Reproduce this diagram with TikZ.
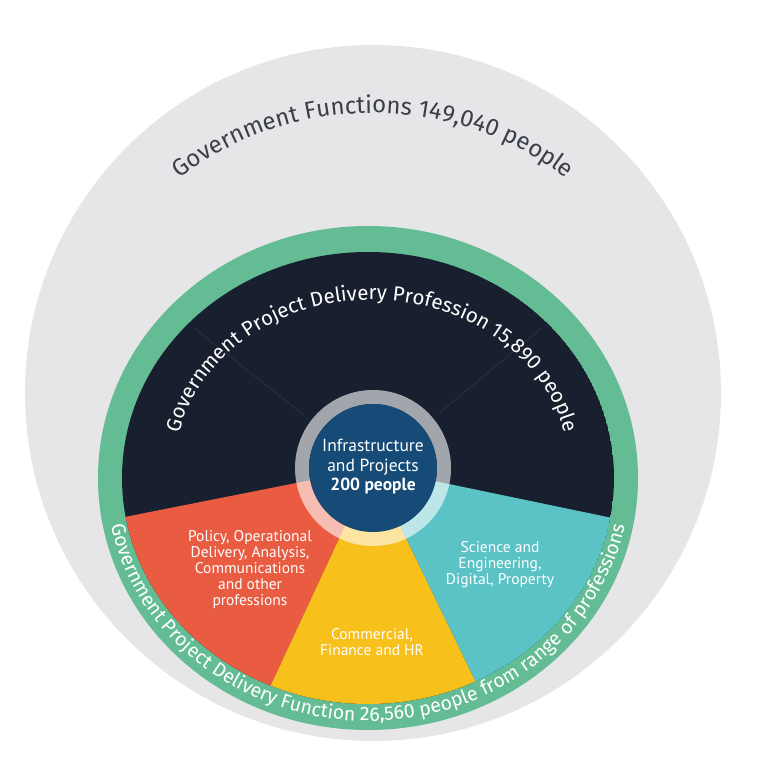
\documentclass[tikz,border=0pt]{standalone}
\usepackage{fontspec}
\setmainfont{Fira Sans}
\newfontfamily\narrowf{PT Sans}
\usetikzlibrary{decorations.text}
\definecolor{gfgray}{HTML}{E6E5E8}
\definecolor{gfgreen}{HTML}{64BC94}
\definecolor{gfdark}{HTML}{18202F}
\definecolor{gfred}{HTML}{E95C41}
\definecolor{gfyellow}{HTML}{F8C01B}
\definecolor{gfteal}{HTML}{5BC2C6}
\definecolor{gfblue}{HTML}{154B76}
\definecolor{gftext}{HTML}{3B3F4A}
\definecolor{gfline}{HTML}{2A3243}
\tikzset{
  wlabel/.style={text=white,align=center,font=\narrowf\fontsize{15.5}{16}\selectfont},
  arctext/.style={decorate,decoration={text along path,text align=center,#1}}
}
\begin{document}
\begin{tikzpicture}[x=1pt,y=1pt]
\useasboundingbox (0,0) rectangle (768,758);
\fill[gfgray] (373,365) circle[radius=348pt];
\coordinate (gc) at (368,280);
\coordinate (pc) at (372,290);
\fill[gfgreen] (gc) ellipse[x radius=270pt,y radius=252pt];
\begin{scope}
\clip (gc) ellipse[x radius=246pt,y radius=226pt];
\fill[gfdark] (gc) ellipse[x radius=246pt,y radius=226pt];
\fill[gfred] (pc)--(-72,202)--(-72,-118)--(182,-118)--cycle;
\fill[gfyellow] (pc)--(182,-118)--(570,-118)--cycle;
\fill[gfteal] (pc)--(570,-118)--(814,-118)--(814,198)--cycle;
\draw[gfline,line width=0.8pt] (305,342)--(194,430);
\draw[gfline,line width=0.8pt] (439,345)--(542,430);
\end{scope}
\fill[white,opacity=0.6,even odd rule] (373,290) circle[radius=78pt] (373,290) circle[radius=64pt];
\fill[gfblue] (373,290) circle[radius=64pt];
\node[text=white,align=center,font=\narrowf\fontsize{17.5}{19.5}\selectfont] (center) at (373,291) {Infrastructure\\and Projects\\\textbf{200 people}};
\node[wlabel] (red) at (250,188) {Policy, Operational\\Delivery, Analysis,\\Communications\\and other\\professions};
\node[wlabel] (yellow) at (372,116) {Commercial,\\Finance and HR};
\node[wlabel] (teal) at (500,193) {Science and\\Engineering,\\Digital, Property};
\path[arctext={text color=gftext,text={|\fontsize{24}{24}\selectfont|Government Functions 149,040 people}}]
  (373,365) ++(135:300pt and 280pt) arc[start angle=135,end angle=45,x radius=300pt,y radius=280pt];
\path[arctext={text color=white,text={|\fontsize{20.5}{20.5}\selectfont|Government Project Delivery Profession 15,890 people}}]
  (pc) ++(176:197pt and 168pt) arc[start angle=176,end angle=4,x radius=197pt,y radius=168pt];
\path[arctext={text color=white,text={|\fontsize{19.5}{19.5}\selectfont|Government Project Delivery Function 26,560 people from range of professions}}]
  (gc) ++(176:262pt and 243pt) arc[start angle=176,end angle=364,x radius=262pt,y radius=243pt];
\end{tikzpicture}
\end{document}
